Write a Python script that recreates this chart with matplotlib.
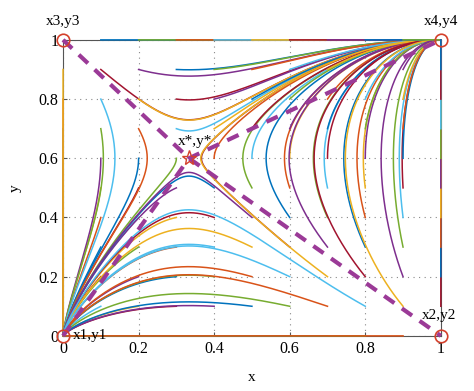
import numpy as np
import matplotlib.pyplot as plt

# start points of the trajectories (grid)
start_x = [0, 0.1, 0.2, 0.3, 0.4, 0.5, 0.6, 0.7, 0.8, 0.9, 1.0]
start_y = [0, 0.1, 0.2, 0.3, 0.4, 0.5, 0.6, 0.7, 0.8, 0.9, 1.0]

# equilibrium points
corner_x = [0, 1, 0, 1]
corner_y = [0, 0, 1, 1]
corner_labels = ["x1,y1", "x2,y2", "x3,y3", "x4,y4"]
x_star = 1 / 3
y_star = 0.6

# replicator dynamics parameters
a_gain = 1.0
c_gain = 1.35
t_end = 40.0
dt = 0.02

colors = ["#0072BD", "#D95319", "#EDB120", "#7E2F8E",
          "#77AC30", "#4DBEEE", "#A2142F"]


def rhs(x, y):
    dx = x * (1 - x) * a_gain * (y - y_star)
    dy = y * (1 - y) * c_gain * (x - x_star)
    return dx, dy


def trajectory(x0, y0):
    xs = [x0]
    ys = [y0]
    x, y = x0, y0
    for _ in range(int(t_end / dt)):
        k1 = rhs(x, y)
        k2 = rhs(x + dt / 2 * k1[0], y + dt / 2 * k1[1])
        k3 = rhs(x + dt / 2 * k2[0], y + dt / 2 * k2[1])
        k4 = rhs(x + dt * k3[0], y + dt * k3[1])
        x = x + dt / 6 * (k1[0] + 2 * k2[0] + 2 * k3[0] + k4[0])
        y = y + dt / 6 * (k1[1] + 2 * k2[1] + 2 * k3[1] + k4[1])
        xs.append(x)
        ys.append(y)
    return np.array(xs), np.array(ys)


plt.rcParams['font.family'] = ['Liberation Serif', 'DejaVu Serif']
fig = plt.figure(figsize=(4.74, 3.91), dpi=100)
ax = fig.add_axes([0.133, 0.141, 0.797, 0.757])

k = 0
for x0 in start_x:
    for y0 in start_y:
        xs, ys = trajectory(x0, y0)
        ax.plot(xs, ys, color=colors[k % len(colors)], lw=1.1,
                clip_on=False, zorder=3)
        k += 1

# separatrix sketch
ax.plot([0, x_star, 1], [1, y_star, 0], color="#9B3A97", lw=3,
        dashes=(3, 2.2), clip_on=False, zorder=4)
ax.plot([0, x_star, 1], [0, y_star, 1], color="#9B3A97", lw=3,
        dashes=(3, 2.2), clip_on=False, zorder=4)

ax.plot(corner_x, corner_y, "o", ms=9, mfc="none", mec="#D4402B",
        mew=1.2, clip_on=False, zorder=5)
ax.plot([x_star], [y_star], "*", ms=11, mfc="none", mec="#D4402B",
        mew=1.0, clip_on=False, zorder=5)

ax.text(0.027, 0.0, corner_labels[0], fontsize=11, va="center", ha="left")
ax.text(0.95, 0.07, corner_labels[1], fontsize=11, va="center", ha="left")
ax.text(0.0, 1.04, corner_labels[2], fontsize=11, va="bottom", ha="center")
ax.text(1.0, 1.04, corner_labels[3], fontsize=11, va="bottom", ha="center")
ax.text(0.35, 0.655, "x*,y*", fontsize=11, va="center", ha="center")

ax.set_xlim(0, 1)
ax.set_ylim(0, 1)
ax.set_xticks([0, 0.2, 0.4, 0.6, 0.8, 1])
ax.set_yticks([0, 0.2, 0.4, 0.6, 0.8, 1])
ax.set_xticklabels(["0", "0.2", "0.4", "0.6", "0.8", "1"])
ax.set_yticklabels(["0", "0.2", "0.4", "0.6", "0.8", "1"])
ax.tick_params(direction="in", labelsize=11.5, length=3, color="#555555")
ax.grid(True, linestyle=(0, (1, 4)), color="#888888", lw=0.8)
for s in ax.spines.values():
    s.set_color("#555555")
    s.set_linewidth(0.8)
ax.set_xlabel("x", fontsize=11, labelpad=10)
ax.set_ylabel("y", fontsize=11, labelpad=12)

fig.savefig("out.png", dpi=100)
